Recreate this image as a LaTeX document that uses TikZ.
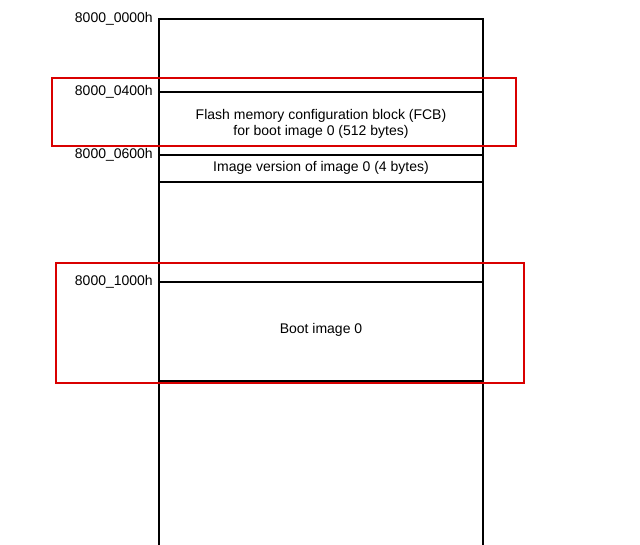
\documentclass[tikz,border=0pt]{standalone}
\usepackage{fontspec}
\setmainfont{Liberation Sans}
\begin{document}
\begin{tikzpicture}[x=1pt,y=-1pt,font=\fontsize{14}{16}\selectfont,
	addr/.style={anchor=east,inner sep=0pt},
	field/.style={align=center,inner sep=0pt},
	redbox/.style={draw=red!85!black,line width=2pt}]
	\useasboundingbox (0,0) rectangle (640,545);

	% memory column
	\draw[line width=2pt] (159,545) -- (159,19) -- (483,19) -- (483,545);
	\foreach \y in {92,155,182,282,381}
		\draw[line width=2pt] (159,\y) -- (483,\y);

	% addresses
	\node[addr] (a0) at (153,19) {8000\_0000h};
	\node[addr] (a1) at (153,92) {8000\_0400h};
	\node[addr] (a2) at (153,155) {8000\_0600h};
	\node[addr] (a3) at (153,282) {8000\_1000h};

	% fields
	\node[field] (fcb) at (321,124) {Flash memory configuration block (FCB)\\for boot image 0 (512 bytes)};
	\node[field] (ver) at (321,168) {Image version of image 0 (4 bytes)};
	\node[field] (img) at (321,330) {Boot image 0};

	% highlights
	\draw[redbox] (52,78) rectangle (516,146);
	\draw[redbox] (56,263) rectangle (524,383);

\end{tikzpicture}
\end{document}
